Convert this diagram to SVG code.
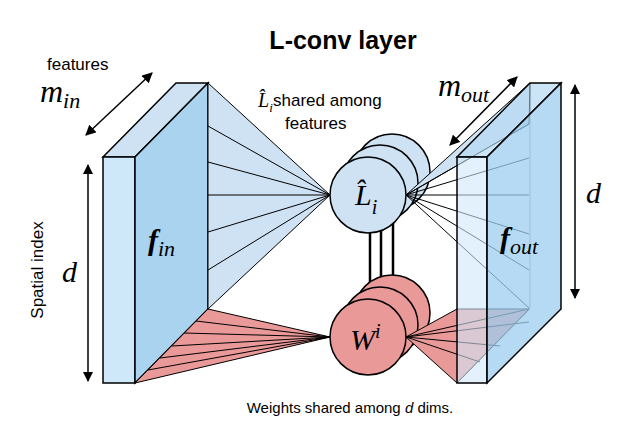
<svg xmlns="http://www.w3.org/2000/svg" width="627" height="440" viewBox="0 0 627 440">
<defs>
<style>
.s{font-family:"Liberation Sans",Arial,sans-serif}
.m{font-family:"Liberation Serif","DejaVu Serif",serif;font-style:italic}
.e{stroke:#000;stroke-width:1.5}
.t{stroke:#000;stroke-width:1}
.lc{fill:#cfe2f3;stroke:#000;stroke-width:1.5}
.wc{fill:#ea9999;stroke:#000;stroke-width:1.5}
</style>
<marker id="a" viewBox="0 0 10 10" refX="9" refY="5" markerWidth="7" markerHeight="7" orient="auto-start-reverse"><path d="M0,0L10,5L0,10z"/></marker>
</defs>
<rect width="627" height="440" fill="#fff"/>
<text class="s" x="343" y="49" font-size="25" font-weight="bold" text-anchor="middle">L-conv layer</text>
<g id="fin">
<polygon points="103,157 135,157 208,83 176,83" fill="#cfe2f3" class="e"/>
<rect x="103" y="157" width="32" height="226" fill="#cfe8f9" class="e"/>
<polygon points="135,157 208,83 208,309 135,383" fill="#a9d3ee" class="e"/>
<text class="m" x="148" y="250" font-size="30" font-weight="bold">f<tspan font-size="22" font-weight="normal" dy="6">in</tspan></text>
</g>
<g id="connectors">
<polygon points="208,83 330,195 208,309" fill="#cfe2f3" class="t"/>
<g class="t"><path d="M330,195L208,126M330,195L208,162M330,195L208,195M330,195L208,232M330,195L208,270"/></g>
<polygon points="208,309 330,337 135,383" fill="#ea9999" class="t"/>
<g class="t"><path d="M330,337L196,321M330,337L184,333M330,337L172,346M330,337L160,358M330,337L148,370"/></g>
<path d="M370,232V297M381,222V287M393,212V276" stroke="#000" stroke-width="2.5"/>
</g>
<g id="L">
<circle cx="392" cy="172" r="38" class="lc"/>
<circle cx="380" cy="183" r="38" class="lc"/>
<circle cx="368" cy="195" r="38" class="lc"/>
<text class="m" x="355" y="205" font-size="30">L&#x0302;<tspan font-size="20" dy="9">i</tspan></text>
</g>
<g id="W">
<circle cx="392" cy="313" r="38" class="wc"/>
<circle cx="380" cy="325" r="38" class="wc"/>
<circle cx="368" cy="337" r="38" class="wc"/>
<text class="m" x="350" y="350" font-size="30">W<tspan font-size="20" dy="-12">i</tspan></text>
</g>
<g id="fout">
<polygon points="406,195 530,83 529,124" fill="#cfe2f3" class="t"/>
<polygon points="406,337 457,309 529,309 457,383" fill="#ea9999" class="t"/>
<g class="t"><path d="M406,195L529,124M406,195L529,158M406,195L529,195M406,195L529,234M406,195L529,270M406,195L529,308M406,337L529,309M406,337L529,322M406,337L500,346M406,337L480,362"/></g>
<polygon points="457,157 487,157 561,83 530,83" fill="#b5d9f2" fill-opacity="0.7" class="e"/>
<path d="M530,83V309L457,383" fill="none" stroke="#000" stroke-width="1" stroke-opacity="0.4"/>
<rect x="457" y="157" width="30" height="226" fill="#cfe8f9" fill-opacity="0.6" class="e"/>
<polygon points="487,157 561,83 561,309 487,383" fill="#9dcdef" fill-opacity="0.75" class="e"/>
<text class="m" x="500" y="248" font-size="30" font-weight="bold">f<tspan font-size="22" font-weight="normal" dy="6">out</tspan></text>
</g>
<g id="labels">
<text class="s" x="47" y="70" font-size="17">features</text>
<text class="m" x="40" y="102" font-size="32">m<tspan font-size="22" dy="6">in</tspan></text>
<line x1="86" y1="135" x2="152" y2="73" class="e" marker-start="url(#a)" marker-end="url(#a)"/>
<line x1="88" y1="165" x2="88" y2="381" class="e" marker-start="url(#a)" marker-end="url(#a)"/>
<text class="s" x="43" y="270" font-size="17" text-anchor="middle" transform="rotate(-90 43 270)">Spatial index</text>
<text class="m" x="62" y="282" font-size="30">d</text>
<text class="m" x="258" y="107" font-size="20">L&#x0302;<tspan font-size="13" dy="5">i</tspan></text>
<text class="s" x="273" y="106" font-size="17">shared among</text>
<text class="s" x="285" y="129" font-size="17">features</text>
<text class="m" x="438" y="96" font-size="32">m<tspan font-size="22" dy="6">out</tspan></text>
<line x1="450" y1="145" x2="517" y2="77" class="e" marker-start="url(#a)" marker-end="url(#a)"/>
<line x1="575" y1="85" x2="575" y2="298" class="e" marker-start="url(#a)" marker-end="url(#a)"/>
<text class="m" x="586" y="203" font-size="30">d</text>
<text class="s" x="350" y="413" font-size="15" text-anchor="middle">Weights shared among <tspan font-style="italic">d</tspan> dims.</text>
</g>
</svg>
